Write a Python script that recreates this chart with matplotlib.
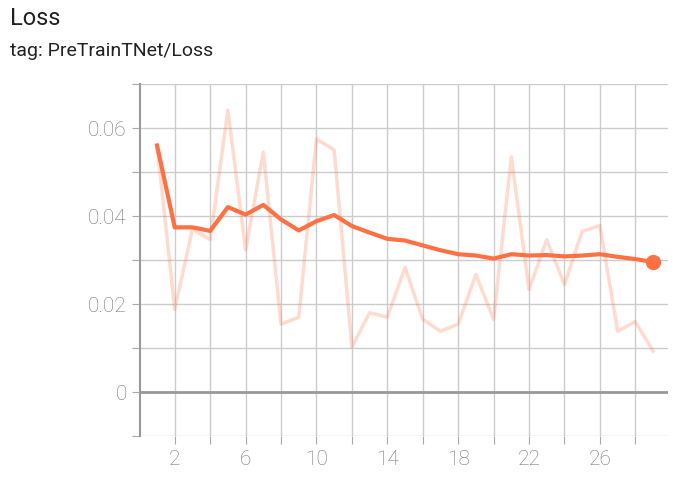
import matplotlib
matplotlib.use("Agg")
import matplotlib.pyplot as plt
import numpy as np

steps = list(range(1, 30))
raw = [0.056, 0.0188, 0.037, 0.0346, 0.064, 0.0323, 0.0545, 0.0154, 0.017, 0.0575,
       0.055, 0.0102, 0.018, 0.017, 0.0283, 0.0165, 0.0138, 0.0154, 0.0267, 0.0165,
       0.0534, 0.0233, 0.0346, 0.0244, 0.0365, 0.0378, 0.0138, 0.016, 0.0093]
smooth = [0.056, 0.0374, 0.0374, 0.0366, 0.042, 0.0403, 0.0425, 0.0392, 0.0367, 0.0388,
          0.0402, 0.0377, 0.0362, 0.0348, 0.0344, 0.0333, 0.0322, 0.0313, 0.031, 0.0303,
          0.0313, 0.031, 0.0311, 0.0308, 0.031, 0.0313, 0.0307, 0.0302, 0.0295]
xtick_labels = [2, 6, 10, 14, 18, 22, 26]
ytick_labels = ["0", "0.02", "0.04", "0.06"]

plt.rcParams['font.family'] = ['Roboto', 'DejaVu Sans']
fig = plt.figure(figsize=(6.81, 4.85), dpi=100)
ax = fig.add_axes([0.2056, 0.099, 0.7754, 0.726])
c = '#ff7043'
ax.plot(steps, raw, color=c, alpha=0.25, lw=2.5)
ax.plot(steps, smooth, color=c, lw=3)
ax.plot(steps[-1], smooth[-1], 'o', color=c, ms=10)
ax.set_xlim(0.04, 29.85)
ax.set_ylim(-0.00995, 0.0697)
ax.set_xticks(np.arange(2, 30, 2))
ax.set_xticklabels([str(v) if v in xtick_labels else "" for v in range(2, 30, 2)])
yt = np.arange(-0.01, 0.0701, 0.01)
ax.set_yticks(yt)
ylab = {0: ytick_labels[0], 2: ytick_labels[1], 4: ytick_labels[2], 6: ytick_labels[3]}
ax.set_yticklabels([ylab.get(int(round(v * 100)), "") for v in yt])
for lab in ax.get_xticklabels() + ax.get_yticklabels():
    lab.set_fontweight('light')
ax.grid(True, color='#cccccc', lw=1)
ax.axhline(0, color='#999999', lw=2)
for s in ['top', 'right', 'bottom']:
    ax.spines[s].set_visible(False)
ax.spines['left'].set_color('#999999')
ax.spines['left'].set_linewidth(1.5)
ax.tick_params(axis='both', colors='#aaaaaa', labelcolor='#777777', labelsize=15, length=6)
fig.text(0.015, 0.948, "Loss", fontsize=17, color='#222222')
fig.text(0.015, 0.885, "tag: PreTrainTNet/Loss", fontsize=14, color='#222222')
fig.savefig("out.png", dpi=100)
